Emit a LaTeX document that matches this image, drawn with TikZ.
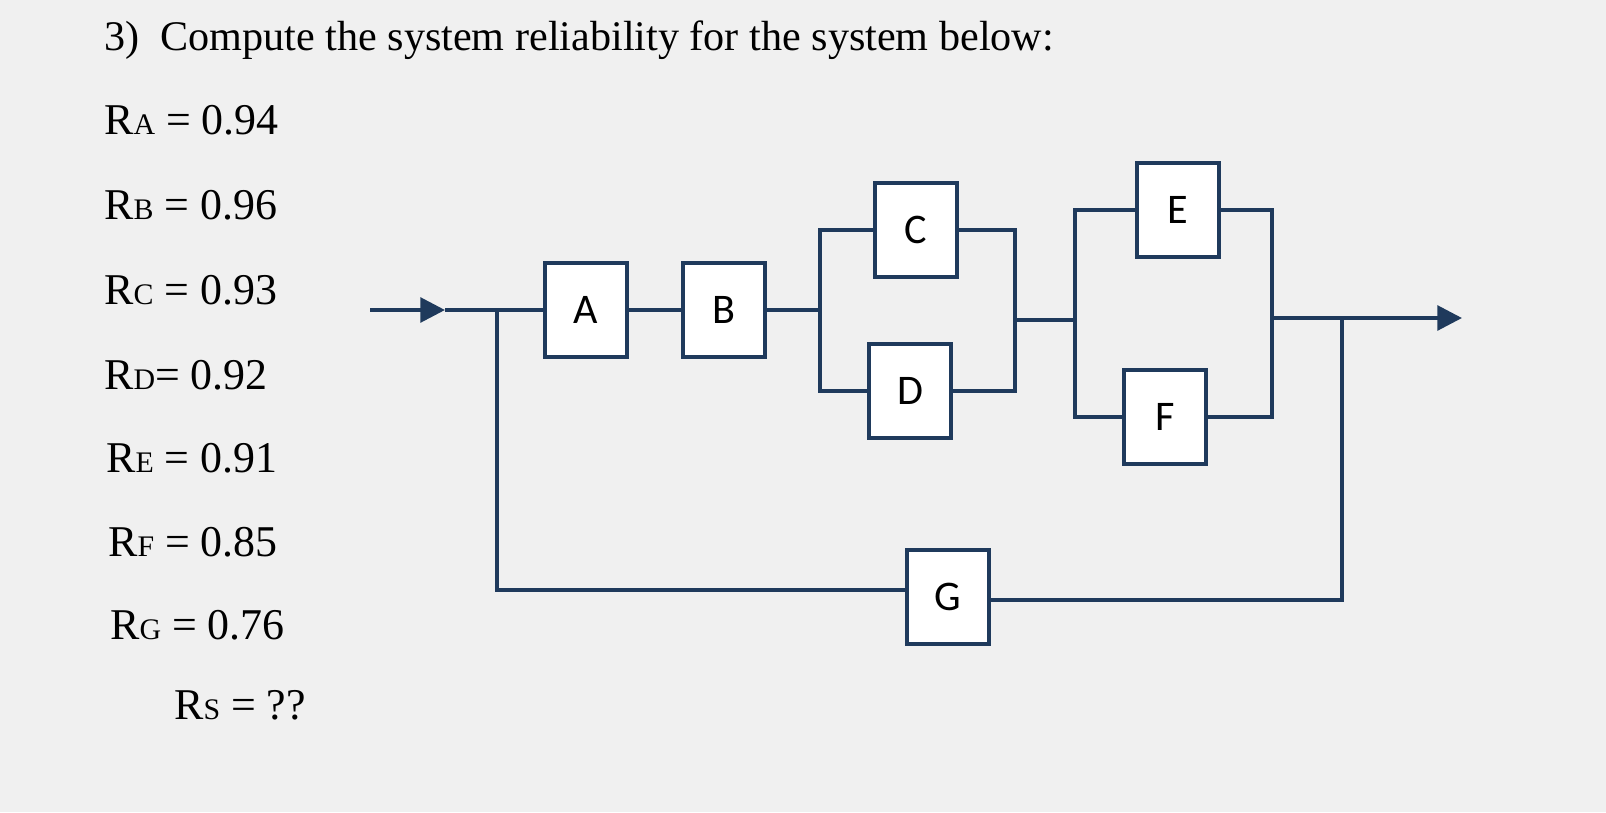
\documentclass[tikz,border=0pt]{standalone}
\usepackage{fontspec}
\setmainfont{Liberation Serif}
\newfontfamily\boxfont{Carlito}
\usetikzlibrary{arrows.meta}
\definecolor{ln}{HTML}{1F3A5C}
\tikzset{blk/.style={draw=ln,line width=2.2pt,fill=white,minimum width=1.64cm,minimum height=1.88cm,font=\boxfont\fontsize{24}{28}\selectfont},
wire/.style={draw=ln,line width=2.2pt},
lbl/.style={anchor=west,font=\fontsize{25}{30}\selectfont}}
\newcommand{\rsub}[1]{R{\fontsize{17}{20}\selectfont #1}}
\begin{document}
\begin{tikzpicture}[x=0.02cm,y=-0.02cm]
\fill[gray!12] (0,0) rectangle (1606,812);
\useasboundingbox (0,0) rectangle (1606,812);
\node[anchor=west,font=\fontsize{24}{29}\selectfont] (t) at (98,40) {3)\ \ Compute the system reliability for the system below:};
\node[lbl] (ra) at (98,120) {\rsub{A} = 0.94};
\node[lbl] (rb) at (98,205) {\rsub{B} = 0.96};
\node[lbl] (rc) at (98,290) {\rsub{C} = 0.93};
\node[lbl] (rd) at (98,375) {\rsub{D}= 0.92};
\node[lbl] (re) at (100,458) {\rsub{E} = 0.91};
\node[lbl] (rf) at (102,542) {\rsub{F} = 0.85};
\node[lbl] (rg) at (104,625) {\rsub{G} = 0.76};
\node[lbl] (rs) at (168,705) {\rsub{S} = ??};
\node[blk] (A) at (586,310) {A};
\node[blk] (B) at (724,310) {B};
\node[blk] (C) at (916,230) {C};
\node[blk] (D) at (910,391) {D};
\node[blk] (E) at (1178,210) {E};
\node[blk] (F) at (1165,417) {F};
\node[blk] (G) at (948,597) {G};
\coordinate (in) at (370,310);
\coordinate (j1) at (497,310);
\coordinate (tip1) at (445,310);
\coordinate (j4) at (1342,318);
\coordinate (out) at (1462,318);
\draw[wire,-{Triangle[length=14pt,width=14pt]}] (in) -- (tip1);
\draw[wire] (tip1) -- (j1) -- (A.west);
\draw[wire] (j1) -- (497,590) -- (G.west |- 0,590);
\draw[wire] (A.east) -- (B.west);
\draw[wire] (B.east) -- (820,310) -- (820,230) -- (C.west);
\draw[wire] (820,310) -- (820,391) -- (D.west);
\draw[wire] (C.east) -- (1015,230) -- (1015,391) -- (D.east);
\draw[wire] (1015,320) -- (1075,320);
\draw[wire] (1075,320) -- (1075,210) -- (E.west);
\draw[wire] (1075,320) -- (1075,417) -- (F.west);
\draw[wire] (E.east) -- (1272,210) -- (1272,417) -- (F.east);
\draw[wire] (1272,318) -- (j4);
\draw[wire,-{Triangle[length=14pt,width=14pt]}] (j4) -- (out);
\draw[wire] (G.east |- 0,600) -- (1342,600) -- (j4);
\end{tikzpicture}
\end{document}
